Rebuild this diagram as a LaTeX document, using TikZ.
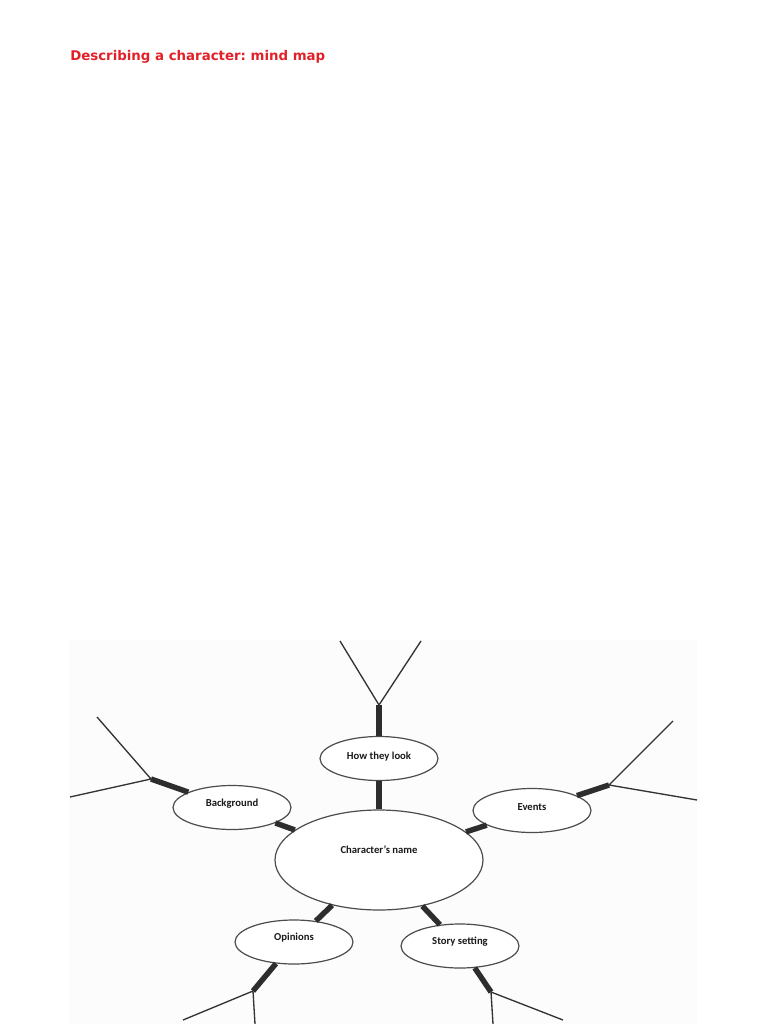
\documentclass[tikz,border=0pt]{standalone}
\usepackage{fontspec}
\setmainfont{Carlito}
\newfontfamily\titlefont{DejaVu Sans}
\usetikzlibrary{shapes.geometric}
\definecolor{titlered}{RGB}{226,32,40}
\definecolor{stemgray}{RGB}{45,45,45}
\tikzset{
  bubble/.style={ellipse,draw=black!70,line width=0.9pt,fill=white,
    minimum width=88.5pt,minimum height=33pt,inner sep=0pt},
  tag/.style={font=\fontsize{8}{9}\selectfont\bfseries,text=black!90},
  stem/.style={draw=stemgray,line width=4.1pt},
  twig/.style={draw=black!80,line width=1pt}
}

\begin{document}
\frenchspacing
\begin{tikzpicture}[x=0.75pt,y=-0.75pt]
\useasboundingbox (0,0) rectangle (768,1024);
\fill[black!1] (70,640) rectangle (697,1024);
\node[anchor=base west,inner sep=0pt,text=titlered,font=\titlefont\bfseries\fontsize{10}{12}\selectfont] (title) at (70,61) {Describing a character: mind map};

% bubbles
\node[bubble,minimum width=156pt,minimum height=75pt,label={[tag,yshift=7.5pt]center:Character's name}] (char) at (379,860) {};
\node[bubble,label={[tag,yshift=1.5pt]center:How they look}] (look) at (379,758.5) {};
\node[bubble,label={[tag,yshift=3pt]center:Background}] (back) at (232,807.5) {};
\node[bubble,label={[tag,yshift=2.5pt]center:Events}] (events) at (532,810.5) {};
\node[bubble,label={[tag,yshift=3.5pt]center:Opinions}] (opin) at (294,942) {};
\node[bubble,label={[tag,yshift=3.5pt]center:Story setting}] (story) at (460,946) {};

% forks and free ends
\coordinate (lookfork) at (379,705);
\coordinate (looka) at (340,641);
\coordinate (lookb) at (421,641);
\coordinate (backfork) at (151,779);
\coordinate (backa) at (97,717);
\coordinate (backb) at (70,797);
\coordinate (eventsfork) at (609,785);
\coordinate (eventsa) at (673,721);
\coordinate (eventsb) at (697,800);
\coordinate (opinfork) at (253,991);
\coordinate (opina) at (183,1020);
\coordinate (opinb) at (255,1024);
\coordinate (storyfork) at (491,992);
\coordinate (storya) at (563,1020);
\coordinate (storyb) at (493,1024);

% thick stems
\path[stem] (char) -- (look);
\path[stem] (char) -- (back);
\path[stem] (char) -- (events);
\path[stem] (char) -- (opin);
\path[stem] (char) -- (story);
\path[stem] (look) -- (lookfork);
\path[stem] (back) -- (backfork);
\path[stem] (events) -- (eventsfork);
\path[stem] (opin) -- (opinfork);
\path[stem] (story) -- (storyfork);

% thin twigs
\path[twig] (looka) -- (lookfork) -- (lookb);
\path[twig] (backa) -- (backfork) -- (backb);
\path[twig] (eventsa) -- (eventsfork) -- (eventsb);
\path[twig] (opina) -- (opinfork) -- (opinb);
\path[twig] (storya) -- (storyfork) -- (storyb);
\end{tikzpicture}
\end{document}
